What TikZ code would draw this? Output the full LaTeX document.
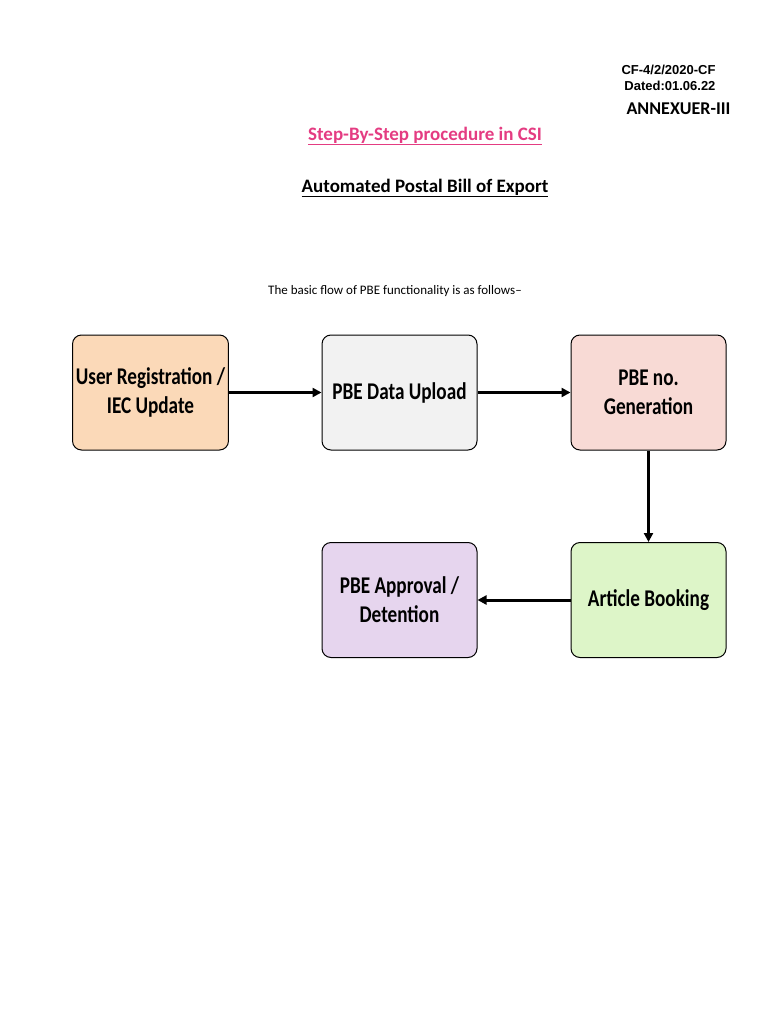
\documentclass[tikz,border=0pt]{standalone}
\usepackage{fontspec}
\setmainfont{Carlito}
\newfontfamily\arialf{Liberation Sans}
\usetikzlibrary{arrows.meta}
\begin{document}
\begin{tikzpicture}[x=1pt,y=-1pt,
box/.style={draw=black,line width=1pt,rounded corners=9pt,minimum width=155pt,minimum height=115pt,align=center,font=\fontsize{24}{29}\selectfont\bfseries},
arr/.style={line width=3pt,-{Triangle[length=9pt,width=9pt]}}]
\useasboundingbox (0,0) rectangle (768,1024);
\node[font=\arialf\bfseries\fontsize{13}{15}\selectfont,align=right,anchor=north east] (ref) at (719,620) {};
\node[font=\arialf\bfseries\fontsize{13}{15}\selectfont,anchor=east] (cf) at (719,70) {CF-4/2/2020-CF};
\node[font=\arialf\bfseries\fontsize{13}{15}\selectfont,anchor=east] (dt) at (719,86) {Dated:01.06.22};
\node[font=\bfseries\fontsize{18}{22}\selectfont,anchor=east] (an) at (734,109) {ANNEXUER-III};
\node[font=\bfseries\fontsize{19}{23}\selectfont,text={rgb,255:red,228;green,60;blue,130}] (t1) at (425,136) {\underline{Step-By-Step procedure in CSI}};
\node[font=\bfseries\fontsize{19}{23}\selectfont] (t2) at (425,188) {\underline{Automated Postal Bill of Export}};
\node[font=\fontsize{13}{15}\selectfont] (t3) at (395,291) {The basic flow of PBE functionality is as follows--};
\node[box,fill={rgb,255:red,251;green,217;blue,184}] (b1) at (150.5,392.5) {\scalebox{0.8}[1]{User Registration /}\\\scalebox{0.8}[1]{IEC Update}};
\node[box,fill={rgb,255:red,242;green,242;blue,242}] (b2) at (399.5,392.5) {\scalebox{0.8}[1]{PBE Data Upload}};
\node[box,fill={rgb,255:red,248;green,218;blue,213}] (b3) at (648.5,392.5) {\scalebox{0.8}[1]{PBE no.}\\\scalebox{0.8}[1]{Generation}};
\node[box,fill={rgb,255:red,221;green,245;blue,200}] (b4) at (648.5,600) {\scalebox{0.8}[1]{Article Booking}};
\node[box,fill={rgb,255:red,230;green,213;blue,238}] (b5) at (399.5,600) {\scalebox{0.8}[1]{PBE Approval /}\\\scalebox{0.8}[1]{Detention}};
\draw[arr] (b1) -- (b2);
\draw[arr] (b2) -- (b3);
\draw[arr] (b3) -- (b4);
\draw[arr] (b4) -- (b5);
\end{tikzpicture}
\end{document}
